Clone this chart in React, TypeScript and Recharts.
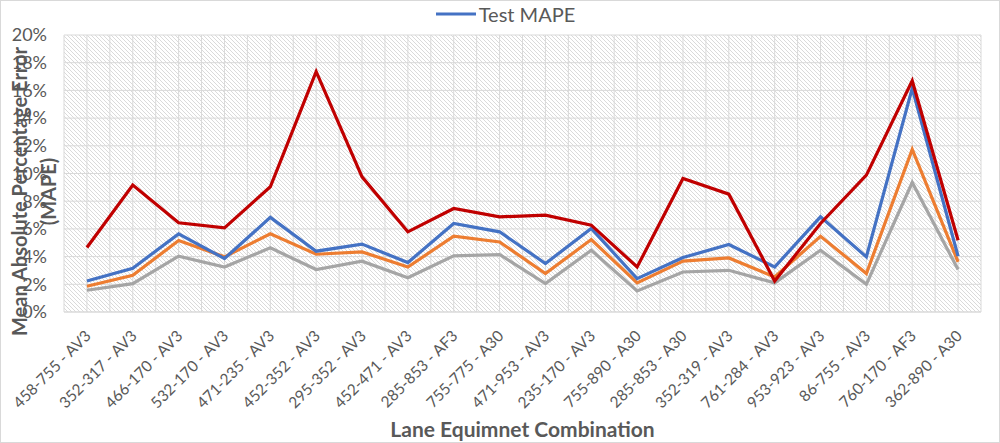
import React from 'react';
import {
  LineChart,
  Line,
  XAxis,
  YAxis,
  CartesianGrid,
  Legend,
  Label,
} from 'recharts';

const categories = [
  '458-755 - AV3',
  '352-317 - AV3',
  '466-170 - AV3',
  '532-170 - AV3',
  '471-235 - AV3',
  '452-352 - AV3',
  '295-352 - AV3',
  '452-471 - AV3',
  '285-853 - AF3',
  '755-775 - A30',
  '471-953 - AV3',
  '235-170 - AV3',
  '755-890 - A30',
  '285-853 - A30',
  '352-319 - AV3',
  '761-284 - AV3',
  '953-923 - AV3',
  '86-755 - AV3',
  '760-170 - AF3',
  '362-890 - A30',
];

// values in percent
const testMape = [2.24, 3.16, 5.64, 3.86, 6.83, 4.39, 4.9, 3.57, 6.39, 5.79, 3.5, 6.03, 2.41, 3.93, 4.87, 3.25, 6.87, 3.98, 16.15, 4.03];
const orangeSeries = [1.86, 2.65, 5.16, 3.98, 5.64, 4.17, 4.34, 3.25, 5.47, 5.06, 2.78, 5.23, 2.1, 3.67, 3.9, 2.53, 5.47, 2.78, 11.74, 3.62];
const graySeries = [1.57, 2.05, 4.03, 3.25, 4.63, 3.07, 3.67, 2.48, 4.05, 4.15, 2.05, 4.46, 1.52, 2.89, 3.01, 2.1, 4.46, 2.0, 9.35, 3.07];
const redSeries = [4.66, 9.16, 6.44, 6.07, 9.04, 17.35, 9.76, 5.79, 7.47, 6.87, 6.99, 6.27, 3.25, 9.64, 8.51, 2.24, 6.39, 9.88, 16.7, 5.18];

const yTicks = [0, 2, 4, 6, 8, 10, 12, 14, 16, 18, 20];

const data = categories.map((name, i) => ({
  name,
  test: testMape[i],
  orange: orangeSeries[i],
  gray: graySeries[i],
  red: redSeries[i],
}));

const FONT = 'Lato, "Open Sans", sans-serif';
const TEXT = '#595959';

const XTick = ({ x, y, payload }: any) => (
  <g transform={`translate(${x + 5},${y + 25})`}>
    <text x={0} y={0} textAnchor="end" transform="rotate(-45)" fontSize={15.5} fill={TEXT} fontFamily={FONT}>
      {payload.value}
    </text>
  </g>
);

const YLabel = ({ viewBox }: any) => {
  const cy = viewBox.y + viewBox.height / 2 + 18;
  return (
    <g fontFamily={FONT} fontWeight="bold" fontSize={20} fill={TEXT}>
      <text x={0} y={0} textAnchor="middle" transform={`translate(27,${cy}) rotate(-90)`}>
        Mean Absolute Percentage Error
      </text>
      <text x={0} y={0} textAnchor="middle" transform={`translate(56,${cy}) rotate(-90)`}>
        (MAPE)
      </text>
    </g>
  );
};

const LegendContent = ({ payload }: any) => (
  <div style={{ display: 'flex', justifyContent: 'center', alignItems: 'center', height: 28, fontFamily: FONT }}>
    {(payload || [])
      .filter((p: any) => p.type !== 'none')
      .map((p: any) => (
        <div key={p.value} style={{ display: 'flex', alignItems: 'center', marginLeft: 30 }}>
          <svg width={40} height={6} style={{ marginRight: 3 }}>
            <line x1={0} y1={3} x2={40} y2={3} stroke={p.color} strokeWidth={3} />
          </svg>
          <span style={{ fontSize: 20, color: TEXT }}>{p.value}</span>
        </div>
      ))}
  </div>
);

const App = () => {
  return (
    <div
      style={{
        position: 'absolute',
        left: 0,
        top: 0,
        width: 1000,
        height: 443,
        boxSizing: 'border-box',
        border: '1px solid #d9d9d9',
        background: '#fff',
      }}
    >
      <svg width={0} height={0} style={{ position: 'absolute' }}>
        <defs>
          <pattern id="hatch" width={4} height={4} patternUnits="userSpaceOnUse">
            <rect width={4} height={4} fill="#ffffff" />
            <path d="M-1,-1 L5,5 M-1,3 L1,5 M3,-1 L5,1" stroke="#dadada" strokeWidth={1} />
          </pattern>
        </defs>
      </svg>
      <div style={{ position: 'absolute', left: -1, top: -1 }}>
        <LineChart width={1000} height={443} data={data} margin={{ top: 7, right: 19, left: 0, bottom: 0 }}>
          <CartesianGrid
            stroke="#d9d9d9"
            fill="url(#hatch)"
            verticalCoordinatesGenerator={({ offset }: any) => {
              const band = offset.width / categories.length;
              return Array.from({ length: categories.length * 2 + 1 }, (_, k) => offset.left + (k * band) / 2);
            }}
          />
          <XAxis
            dataKey="name"
            scale="band"
            interval={0}
            tick={<XTick />}
            tickLine={false}
            tickSize={0}
            tickMargin={0}
            axisLine={{ stroke: '#d9d9d9' }}
            height={131}
          >
            <Label
              value="Lane Equimnet Combination"
              position="insideBottom"
              offset={6}
              fill={TEXT}
              fontSize={21}
              fontWeight="bold"
              fontFamily={FONT}
            />
          </XAxis>
          <YAxis
            domain={[0, 20]}
            ticks={yTicks}
            tickFormatter={(v: number) => `${v}%`}
            tick={{ fill: TEXT, fontSize: 18, fontFamily: FONT }}
            axisLine={false}
            tickLine={false}
            tickSize={0}
            tickMargin={17}
            width={64}
            label={<YLabel />}
          />
          <Legend verticalAlign="top" height={28} wrapperStyle={{ top: 0 }} content={<LegendContent />} />
          <Line dataKey="gray" name="Train MAPE" stroke="#a5a5a5" strokeWidth={3.2} dot={false} legendType="none" isAnimationActive={false} />
          <Line dataKey="orange" name="Validation MAPE" stroke="#ed7d31" strokeWidth={3.2} dot={false} legendType="none" isAnimationActive={false} />
          <Line dataKey="test" name="Test MAPE" stroke="#4472c4" strokeWidth={3.2} dot={false} isAnimationActive={false} />
          <Line dataKey="red" name="Max MAPE" stroke="#c00000" strokeWidth={3.2} dot={false} legendType="none" isAnimationActive={false} />
        </LineChart>
      </div>
    </div>
  );
};

export default App;
